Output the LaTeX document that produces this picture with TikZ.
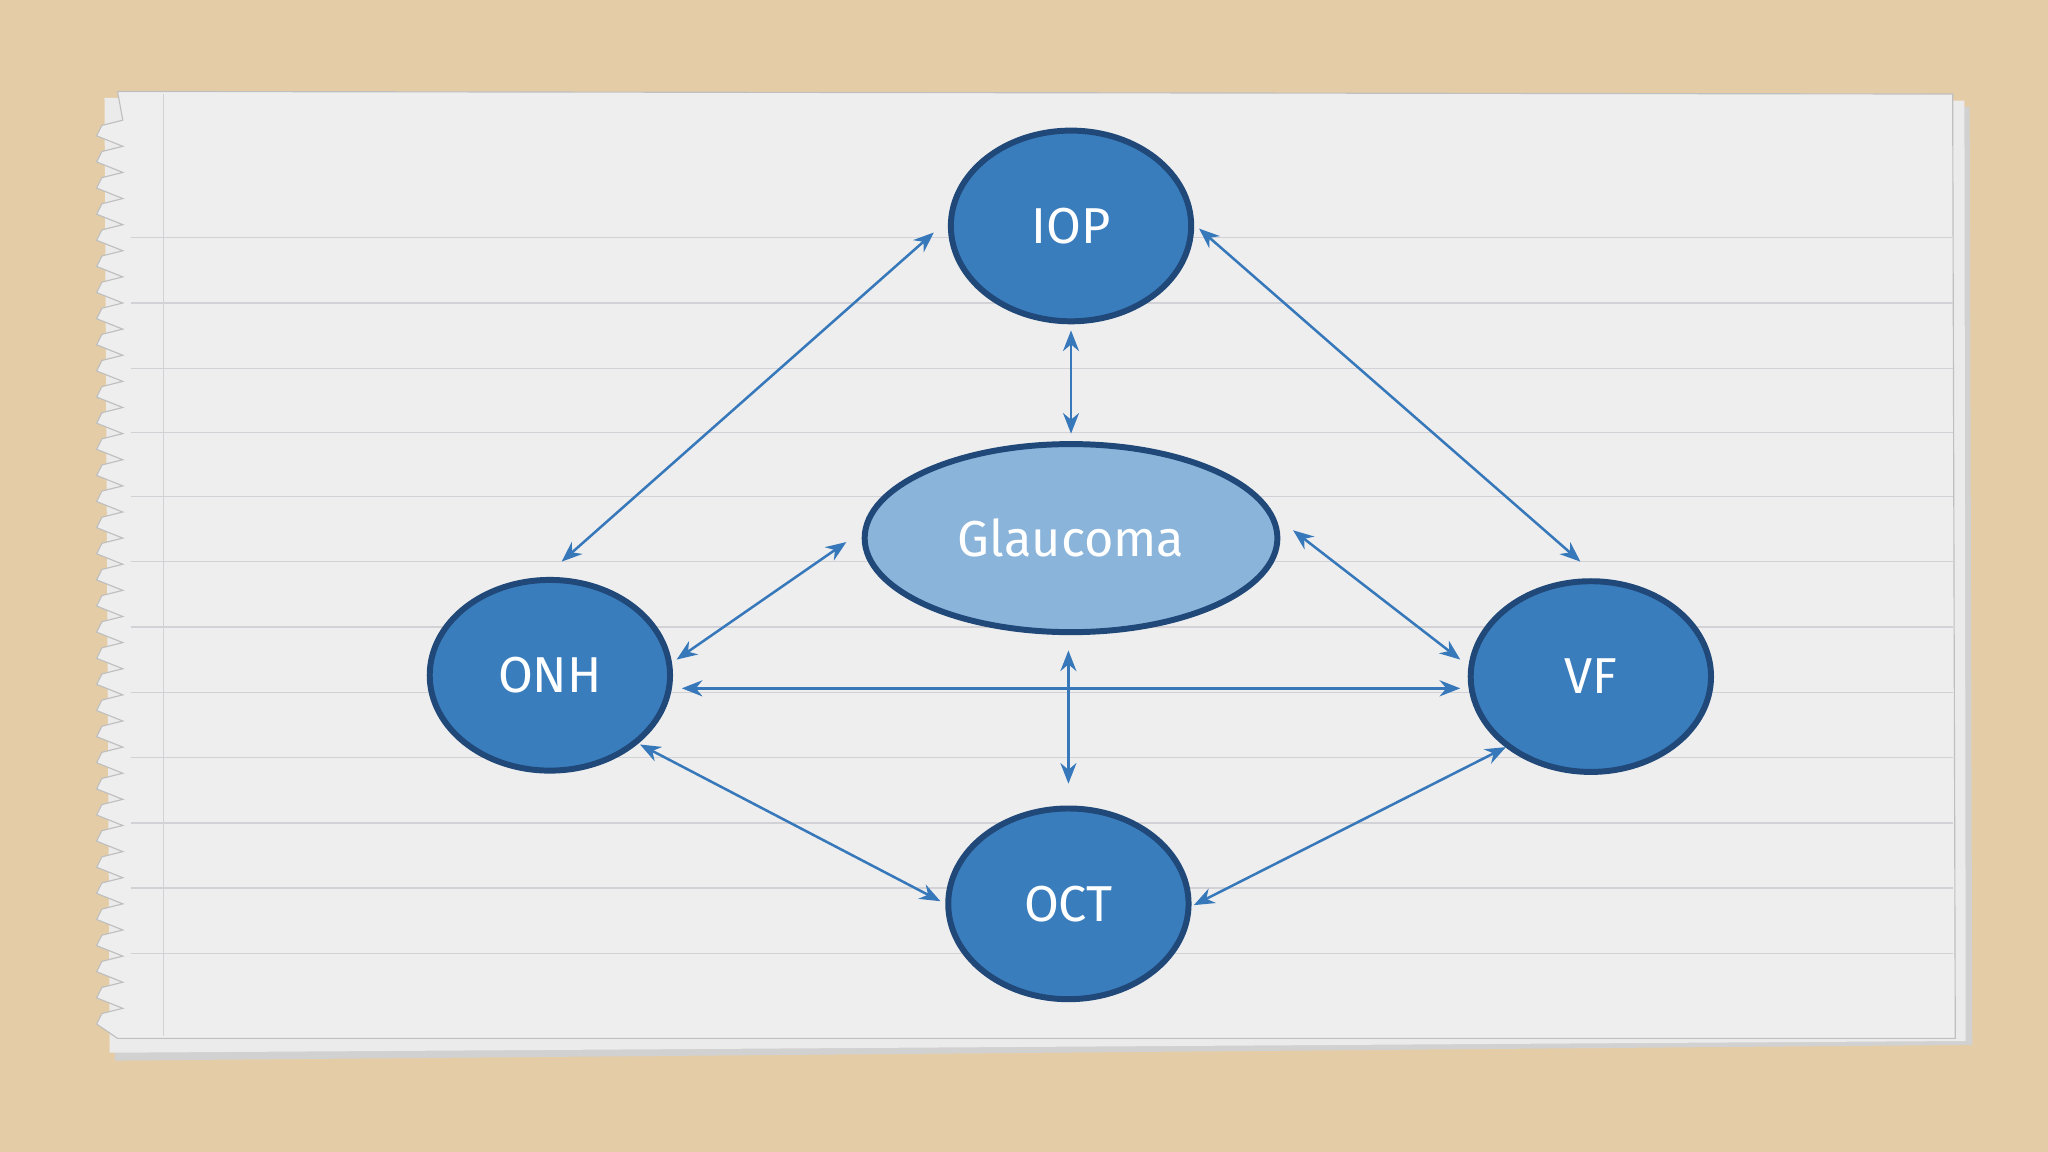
\documentclass[tikz,border=0pt]{standalone}
\usepackage{fontspec}
\setmainfont{Fira Sans}
\usetikzlibrary{arrows.meta,calc,shapes.geometric}
\definecolor{bg}{RGB}{228,205,166}
\definecolor{paper}{RGB}{238,238,239}
\definecolor{rule}{RGB}{210,210,214}
\definecolor{nodeblue}{RGB}{58,125,189}
\definecolor{nodeedge}{RGB}{32,72,120}
\definecolor{lightblue}{RGB}{138,180,218}
\definecolor{arr}{RGB}{54,120,185}
\begin{document}
\begin{tikzpicture}[x=0.02cm,y=-0.02cm,
  bub/.style={shape=ellipse,draw=nodeedge,line width=2.6pt,fill=nodeblue,minimum width=184*0.02cm,minimum height=146*0.02cm,text=white,font=\fontsize{22}{26}\selectfont},
  link/.style={arr,line width=1.1pt,{Stealth[length=9pt,width=7pt]}-{Stealth[length=9pt,width=7pt]}}]
\fill[bg] (0,0) rectangle (1568,882);
\useasboundingbox (0,0) rectangle (1568,882);
% paper shadow layers
\fill[black!18] (85,80) -- (1508,82) -- (1510,800) -- (88,812) -- cycle;
\fill[black!8] (80,75) -- (1504,77) -- (1505,797) -- (84,806) -- cycle;
% paper with torn left edge
\fill[paper,draw=black!25,line width=0.5pt] (90,70) -- (1495,72) -- (1497,795) -- (90,795)
  \foreach \yy in {780,760,...,100}{ -- (74,{\yy+4}) -- (78,{\yy-4}) -- (94,{\yy-8}) } -- cycle;
\foreach \yy in {182,232,282,331,380,430,480,530,580,630,680,730}
  \draw[rule,line width=0.6pt] (100,\yy) -- (1495,\yy);
\draw[rule,line width=0.6pt] (125,72) -- (125,793);
% nodes
\node[bub] (iop) at (820,173) {IOP};
\node[bub,fill=lightblue,minimum width=316*0.02cm,minimum height=144*0.02cm] (gl) at (820,412) {Glaucoma};
\node[bub] (onh) at (421,517) {ONH};
\node[bub] (vf) at (1218,518) {VF};
\node[bub] (oct) at (818,692) {OCT};
% connectors
\draw[link] ($(iop.center)+(-105,5)$) -- ($(onh.center)+(9,-87)$);
\draw[link] ($(iop.center)+(98,2)$) -- ($(vf.center)+(-8,-88)$);
\draw[link] ($(iop.center)+(0,80)$) -- ($(gl.center)+(0,-80)$);
\draw[link] ($(onh.center)+(97,-12)$) -- ($(gl.center)+(-172,3)$);
\draw[link] ($(gl.center)+(170,-6)$) -- ($(vf.center)+(-100,-13)$);
\draw[link] ($(onh.center)+(101,10)$) -- ($(vf.center)+(-100,9)$);
\draw[link] ($(gl.center)+(-2,86)$) -- ($(oct.center)+(0,-92)$);
\draw[link] ($(onh.center)+(69,53)$) -- ($(oct.center)+(-98,-2)$);
\draw[link] ($(vf.center)+(-65,54)$) -- ($(oct.center)+(96,1)$);
\end{tikzpicture}
\end{document}
